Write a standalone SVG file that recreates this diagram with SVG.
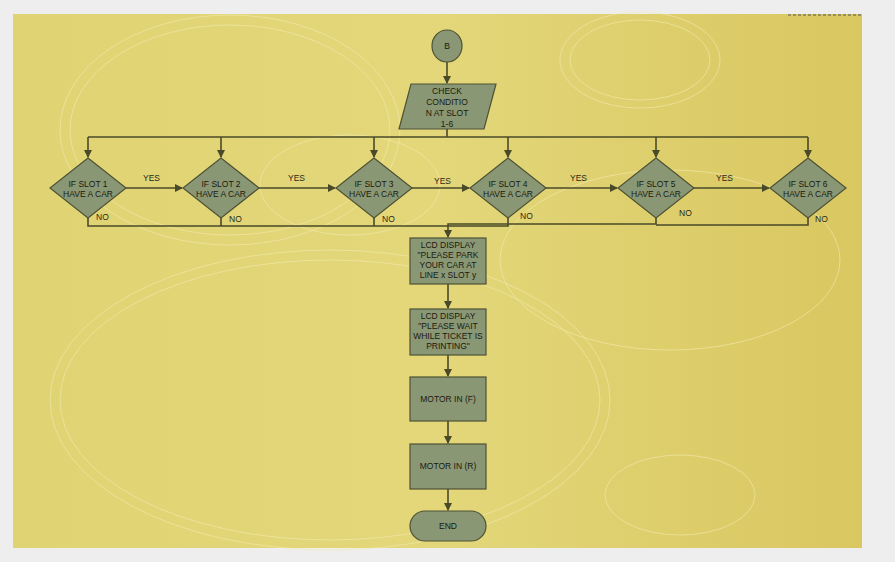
<svg xmlns="http://www.w3.org/2000/svg" width="895" height="562" viewBox="0 0 895 562">
<defs>
<linearGradient id="bg" x1="0" y1="0" x2="1" y2="0"><stop offset="0" stop-color="#e0d373"/><stop offset="0.5" stop-color="#e3d77a"/><stop offset="1" stop-color="#d9c760"/></linearGradient>
<marker id="ar" markerWidth="8" markerHeight="8" refX="7" refY="4" orient="auto" markerUnits="userSpaceOnUse"><path d="M0,0L8,4L0,8z" fill="#4a4a28"/></marker>
<style>
.n{fill:#8a9774;stroke:#4d5235;stroke-width:1.2}
.t{font-family:"Liberation Sans",Arial,sans-serif;font-size:8.5px;fill:#1a1a10;text-anchor:middle}
.l{font-family:"Liberation Sans",Arial,sans-serif;font-size:8.5px;fill:#2a2a18}
.c{fill:none;stroke:#4a4a28;stroke-width:1.6}
.e{fill:none;stroke:#f2ebb0;stroke-width:1;opacity:0.6}
</style>
</defs>
<rect width="895" height="562" fill="#eeeeee"/>
<rect x="13" y="14" width="849" height="534" fill="url(#bg)"/>
<line x1="788" y1="15" x2="862" y2="15" stroke="#555" stroke-dasharray="3,2"/>
<g>
<ellipse class="e" cx="230" cy="130" rx="170" ry="115"/>
<ellipse class="e" cx="230" cy="130" rx="160" ry="105"/>
<ellipse class="e" cx="640" cy="60" rx="80" ry="48"/>
<ellipse class="e" cx="640" cy="60" rx="70" ry="40"/>
<ellipse class="e" cx="330" cy="400" rx="280" ry="150"/>
<ellipse class="e" cx="330" cy="400" rx="270" ry="140"/>
<ellipse class="e" cx="670" cy="260" rx="170" ry="90"/>
<ellipse class="e" cx="680" cy="495" rx="75" ry="40"/>
<ellipse class="e" cx="350" cy="185" rx="90" ry="50"/>
</g>
<g id="connectors">
<line class="c" x1="447" y1="62" x2="447" y2="83" marker-end="url(#ar)"/>
<line class="c" x1="447" y1="129" x2="447" y2="137"/>
<line class="c" x1="88" y1="137" x2="808" y2="137"/>
<line class="c" x1="88" y1="137" x2="88" y2="157" marker-end="url(#ar)"/>
<line class="c" x1="221" y1="137" x2="221" y2="157" marker-end="url(#ar)"/>
<line class="c" x1="374" y1="137" x2="374" y2="157" marker-end="url(#ar)"/>
<line class="c" x1="508" y1="137" x2="508" y2="157" marker-end="url(#ar)"/>
<line class="c" x1="656" y1="137" x2="656" y2="157" marker-end="url(#ar)"/>
<line class="c" x1="808" y1="137" x2="808" y2="157" marker-end="url(#ar)"/>
<line class="c" x1="126" y1="188" x2="182" y2="188" marker-end="url(#ar)"/>
<line class="c" x1="259" y1="188" x2="335" y2="188" marker-end="url(#ar)"/>
<line class="c" x1="412" y1="188" x2="469" y2="188" marker-end="url(#ar)"/>
<line class="c" x1="546" y1="188" x2="617" y2="188" marker-end="url(#ar)"/>
<line class="c" x1="694" y1="188" x2="769" y2="188" marker-end="url(#ar)"/>
<polyline class="c" points="88,218 88,226 508,226 508,218"/>
<line class="c" x1="221" y1="218" x2="221" y2="226"/>
<line class="c" x1="374" y1="218" x2="374" y2="226"/>
<polyline class="c" points="448,226 448,224 656,224 656,218"/>
<polyline class="c" points="656,225 808,225 808,218"/>
<line class="c" x1="448" y1="226" x2="448" y2="237" marker-end="url(#ar)"/>
<line class="c" x1="448" y1="284" x2="448" y2="308" marker-end="url(#ar)"/>
<line class="c" x1="448" y1="355" x2="448" y2="376" marker-end="url(#ar)"/>
<line class="c" x1="448" y1="421" x2="448" y2="443" marker-end="url(#ar)"/>
<line class="c" x1="448" y1="489" x2="448" y2="510" marker-end="url(#ar)"/>
<text class="l" x="143" y="181">YES</text>
<text class="l" x="288" y="181">YES</text>
<text class="l" x="434" y="184">YES</text>
<text class="l" x="570" y="181">YES</text>
<text class="l" x="716" y="181">YES</text>
<text class="l" x="96" y="220">NO</text>
<text class="l" x="229" y="222">NO</text>
<text class="l" x="382" y="222">NO</text>
<text class="l" x="520" y="219">NO</text>
<text class="l" x="679" y="216">NO</text>
<text class="l" x="815" y="222">NO</text>
</g>
<g id="start"><ellipse class="n" cx="447" cy="46" rx="15" ry="16"/><text class="t" x="447" y="49">B</text></g>
<g id="check"><polygon class="n" points="411,84 496,84 484,129 399,129"/><text class="t" x="447" y="94">CHECK</text><text class="t" x="447" y="105">CONDITIO</text><text class="t" x="447" y="116">N AT SLOT</text><text class="t" x="447" y="127">1-6</text></g>
<g id="slot1"><polygon class="n" points="88,158 126,188 88,218 50,188"/><text class="t" x="88" y="187">IF SLOT 1</text><text class="t" x="88" y="197">HAVE A CAR</text></g>
<g id="slot2"><polygon class="n" points="221,158 259,188 221,218 183,188"/><text class="t" x="221" y="187">IF SLOT 2</text><text class="t" x="221" y="197">HAVE A CAR</text></g>
<g id="slot3"><polygon class="n" points="374,158 412,188 374,218 336,188"/><text class="t" x="374" y="187">IF SLOT 3</text><text class="t" x="374" y="197">HAVE A CAR</text></g>
<g id="slot4"><polygon class="n" points="508,158 546,188 508,218 470,188"/><text class="t" x="508" y="187">IF SLOT 4</text><text class="t" x="508" y="197">HAVE A CAR</text></g>
<g id="slot5"><polygon class="n" points="656,158 694,188 656,218 618,188"/><text class="t" x="656" y="187">IF SLOT 5</text><text class="t" x="656" y="197">HAVE A CAR</text></g>
<g id="slot6"><polygon class="n" points="808,158 846,188 808,218 770,188"/><text class="t" x="808" y="187">IF SLOT 6</text><text class="t" x="808" y="197">HAVE A CAR</text></g>
<g id="lcd1"><rect class="n" x="410" y="238" width="76" height="46"/><text class="t" x="448" y="248">LCD DISPLAY</text><text class="t" x="448" y="258">"PLEASE PARK</text><text class="t" x="448" y="268">YOUR CAR AT</text><text class="t" x="448" y="278">LINE x SLOT y</text></g>
<g id="lcd2"><rect class="n" x="410" y="309" width="76" height="46"/><text class="t" x="448" y="319">LCD DISPLAY</text><text class="t" x="448" y="329">"PLEASE WAIT</text><text class="t" x="448" y="339">WHILE TICKET IS</text><text class="t" x="448" y="349">PRINTING"</text></g>
<g id="motorF"><rect class="n" x="410" y="377" width="76" height="44"/><text class="t" x="448" y="402">MOTOR IN (F)</text></g>
<g id="motorR"><rect class="n" x="410" y="444" width="76" height="45"/><text class="t" x="448" y="469">MOTOR IN (R)</text></g>
<g id="end"><rect class="n" x="410" y="511" width="76" height="30" rx="15"/><text class="t" x="448" y="529">END</text></g>
</svg>
